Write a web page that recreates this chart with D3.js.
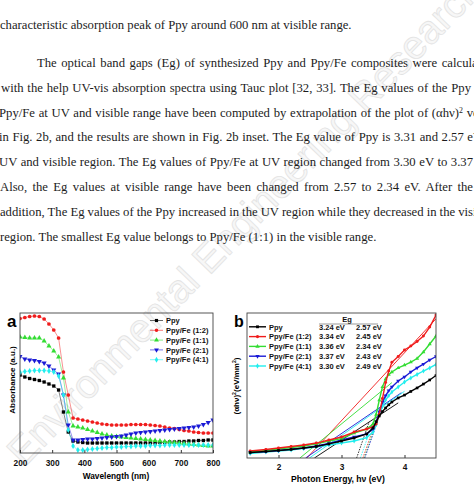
<!DOCTYPE html>
<html>
<head>
<meta charset="utf-8">
<script src="https://cdn.jsdelivr.net/npm/d3@7"></script>
<style>
body { margin: 0; background: #fff; }
svg { display: block; }
</style>
</head>
<body>
<div id="page"></div>
<script>
const W = 474, H = 491

// ---- figure a : UV-vis absorbance ----
const wavelengths = [200, 215, 230, 245, 260, 275, 290, 305, 320, 335, 350, 365, 380, 395, 410, 425, 440, 455, 470, 485,
    500, 515, 530, 545, 560, 575, 590, 605, 620, 635, 650, 665, 680, 695, 710, 725, 740, 755, 770, 785, 800]
const absPpy = [0.78, 0.76, 0.745, 0.735, 0.725, 0.71, 0.69, 0.67, 0.63, 0.41, 0.21, 0.12, 0.11, 0.105, 0.1, 0.1, 0.1, 0.1, 0.1, 0.1,
    0.1, 0.1, 0.1, 0.1, 0.1, 0.1, 0.1, 0.1, 0.1, 0.105, 0.105, 0.11, 0.11, 0.115, 0.115, 0.12, 0.12, 0.125, 0.125, 0.13, 0.13]
const absFe12 = [1.345, 1.355, 1.365, 1.37, 1.365, 1.34, 1.29, 1.23, 1.15, 0.81, 0.58, 0.35, 0.34, 0.33, 0.32, 0.31, 0.3, 0.29, 0.285, 0.28,
    0.28, 0.28, 0.28, 0.285, 0.285, 0.285, 0.285, 0.28, 0.275, 0.27, 0.26, 0.25, 0.245, 0.235, 0.225, 0.22, 0.21, 0.205, 0.2, 0.2, 0.2]
const absFe11 = [1.16, 1.155, 1.15, 1.15, 1.15, 1.12, 1.07, 1.02, 0.96, 0.75, 0.41, 0.27, 0.26, 0.25, 0.235, 0.22, 0.205, 0.19, 0.18, 0.17,
    0.165, 0.16, 0.155, 0.15, 0.145, 0.14, 0.135, 0.13, 0.125, 0.12, 0.115, 0.11, 0.105, 0.1, 0.095, 0.09, 0.085, 0.08, 0.075, 0.07, 0.07]
const absFe21 = [0.965, 0.94, 0.93, 0.925, 0.915, 0.9, 0.87, 0.83, 0.79, 0.58, 0.28, 0.13, 0.13, 0.135, 0.14, 0.14, 0.145, 0.15, 0.155, 0.16,
    0.165, 0.17, 0.18, 0.19, 0.2, 0.205, 0.21, 0.215, 0.22, 0.225, 0.23, 0.235, 0.24, 0.245, 0.25, 0.255, 0.26, 0.27, 0.285, 0.305, 0.33]
const absFe41 = [0.805, 0.815, 0.82, 0.825, 0.825, 0.825, 0.82, 0.81, 0.77, 0.58, 0.23, 0.07, 0.03, 0.03, 0.035, 0.04, 0.045, 0.05, 0.055, 0.055,
    0.06, 0.06, 0.065, 0.065, 0.07, 0.07, 0.07, 0.075, 0.075, 0.075, 0.08, 0.08, 0.08, 0.08, 0.08, 0.08, 0.08, 0.08, 0.08, 0.08, 0.08]
const wlTicks = [200, 300, 400, 500, 600, 700, 800]

// ---- figure b : Tauc plot ----
const energies = [1.55, 1.8, 2.0, 2.2, 2.4, 2.6, 2.8, 3.0, 3.2, 3.4, 3.5, 3.55, 3.6, 3.65, 3.7, 3.75, 3.8, 3.9, 4.0, 4.1, 4.2, 4.3, 4.4, 4.5]
const taucPpy = [0.038, 0.045, 0.052, 0.059, 0.069, 0.079, 0.097, 0.117, 0.138, 0.166, 0.207, 0.25, 0.29, 0.32, 0.345, 0.367, 0.386, 0.414, 0.434, 0.459, 0.483, 0.51, 0.538, 0.569]
const taucFe12 = [0.048, 0.059, 0.069, 0.079, 0.09, 0.103, 0.124, 0.145, 0.179, 0.2, 0.214, 0.234, 0.3, 0.41, 0.52, 0.6, 0.66, 0.7, 0.745, 0.772, 0.803, 0.841, 0.903, 0.986]
const taucFe11 = [0.041, 0.052, 0.062, 0.072, 0.083, 0.097, 0.117, 0.134, 0.172, 0.2, 0.234, 0.3, 0.4, 0.49, 0.545, 0.575, 0.593, 0.621, 0.641, 0.662, 0.686, 0.731, 0.786, 0.841]
const taucFe21 = [0.038, 0.045, 0.052, 0.062, 0.069, 0.083, 0.1, 0.124, 0.145, 0.166, 0.2, 0.25, 0.32, 0.385, 0.43, 0.465, 0.49, 0.531, 0.559, 0.593, 0.621, 0.648, 0.676, 0.7]
const taucFe41 = [0.031, 0.041, 0.048, 0.055, 0.066, 0.076, 0.09, 0.103, 0.117, 0.141, 0.179, 0.23, 0.297, 0.355, 0.4, 0.43, 0.455, 0.49, 0.524, 0.552, 0.576, 0.6, 0.621, 0.645]
const egUV = [3.24, 3.34, 3.36, 3.37, 3.30]
const egVis = [2.57, 2.45, 2.34, 2.43, 2.49]
// upper end of the visible-range fit lines [energy, value]
const visFitEnd = [[3.9, 0.38], [4.5, 0.96], [3.8, 0.52], [3.95, 0.45], [4.0, 0.46]]
const uvFitEnd = [[3.44, 0.25], [3.54, 0.25], [3.56, 0.25], [3.57, 0.25], [3.5, 0.25]]
const eTicks = [2, 3, 4]

const names = ["Ppy", "Ppy/Fe (1:2)", "Ppy/Fe (1:1)", "Ppy/Fe (2:1)", "Ppy/Fe (4:1)"]
const colors = ["#000000", "#f01c1c", "#33dd33", "#1a1ad6", "#22eeee"]
const symbols = [d3.symbolSquare, d3.symbolCircle, d3.symbolTriangle, d3.symbolTriangle, d3.symbolDiamond]
const rotations = [0, 0, 0, 180, 0]

const absSeries = [absPpy, absFe12, absFe11, absFe21, absFe41]
const taucSeries = [taucPpy, taucFe12, taucFe11, taucFe21, taucFe41]

const sans = "'Liberation Sans', Arial, sans-serif"

let svg = d3.select("#page").append("svg")
    .attr("width", W)
    .attr("height", H)

// watermark
svg.append("text")
    .attr("transform", "translate(24,468) rotate(-46)")
    .style("font-family", sans)
    .style("font-size", "40px")
    .attr("fill", "#f7f7f7")
    .attr("stroke", "#e3e3e3")
    .attr("stroke-width", 0.8)
    .text("Environmental Engineering Research")

// ---- paragraph text ----
const paraLines = [
    {parts: [["characteristic absorption peak of Ppy around 600 nm at visible range."]], x: 0, y: 28.5},
    {parts: [["The optical band gaps (Eg) of synthesized Ppy and Ppy/Fe composites were calcul"]], rest: "ated", x: 37, y: 66.5, end: 472},
    {parts: [["with the help UV-vis absorption spectra using Tauc plot [32, 33]. The Eg values of the Ppy"]], rest: " and", x: 1, y: 91.5, end: 471},
    {parts: [["Ppy/Fe at UV and visible range have been computed by extrapolation of the plot of (\u03b1h\u03bd)"], ["2", true], [" v"]], rest: "ersus", x: -1, y: 116.5, end: 473},
    {parts: [["in Fig. 2b, and the results are shown in Fig. 2b inset. The Eg value of Ppy is 3.31 and 2.57 e"]], rest: "V at", x: -1, y: 141, end: 473},
    {parts: [["UV and visible region. The Eg values of Ppy/Fe at UV region changed from 3.30 eV to 3.37"]], rest: " eV.", x: -1, y: 166, end: 473},
    {parts: [["Also, the Eg values at visible range have been changed from 2.57 to 2.34 eV. After the"]], rest: " Fe", x: 0, y: 190.5, end: 473},
    {parts: [["addition, The Eg values of the Ppy increased in the UV region while they decreased in the vis"]], rest: "ible", x: 0, y: 215.5, end: 473},
    {parts: [["region. The smallest Eg value belongs to Ppy/Fe (1:1) in the visible range."]], x: 0, y: 240.5}
]

let para = svg.append("g")
    .style("font-family", "'Liberation Serif', 'Times New Roman', serif")
    .attr("fill", "#1c1c1c")

let probe = para.append("text").style("font-size", "12px").text(paraLines[0].parts[0][0])
const paraSize = 12 * 352 / probe.node().getComputedTextLength()
probe.remove()

paraLines.forEach(line => {
    let t = para.append("text")
        .attr("x", line.x)
        .attr("y", line.y)
        .style("font-size", paraSize + "px")
    let spaces = 0
    line.parts.forEach(p => {
        let ts = t.append("tspan").text(p[0])
        if (p[1]) ts.attr("baseline-shift", "super").style("font-size", "0.62em")
        spaces += p[0].split(" ").length - 1
    })
    if (line.end) {
        let natural = t.node().getComputedTextLength()
        t.style("word-spacing", ((line.end - line.x - natural) / spaces) + "px")
        t.append("tspan").text(line.rest)
    }
})

// ---- chart a ----
let ax = d3.scaleLinear().domain([200, 800]).range([20, 213])
let ay = d3.scaleLinear().domain([0, 1.4]).range([453, 313])

let ga = svg.append("g")
ga.append("clipPath").attr("id", "clipA")
    .append("rect").attr("x", 20).attr("y", 313).attr("width", 193).attr("height", 140)

ga.append("g")
    .attr("transform", "translate(0,453)")
    .call(d3.axisBottom(ax).tickValues(wlTicks).tickSize(-3).tickPadding(7))
    .call(g => g.select(".domain").remove())
    .call(g => g.selectAll("line").attr("stroke", "#333"))
    .call(g => g.selectAll("text").style("font-family", sans).style("font-size", "8.3px").style("font-weight", "bold").attr("fill", "#111"))

let lineA = d3.line()
    .x((d, i) => ax(wavelengths[i]))
    .y(d => ay(d))

let plotA = ga.append("g").attr("clip-path", "url(#clipA)")
absSeries.forEach((s, k) => {
    plotA.append("path")
        .attr("d", lineA(s))
        .attr("fill", "none")
        .attr("stroke", colors[k])
        .attr("stroke-width", 0.6)
        .attr("opacity", 0.8)
})
absSeries.forEach((s, k) => {
    plotA.selectAll(null)
        .data(s)
        .enter()
        .append("path")
        .attr("d", d3.symbol().type(symbols[k]).size(11))
        .attr("transform", (d, i) => "translate(" + ax(wavelengths[i]) + "," + ay(d) + ") rotate(" + rotations[k] + ")")
        .attr("fill", colors[k])
})

ga.append("rect")
    .attr("x", 20).attr("y", 313).attr("width", 193).attr("height", 140)
    .attr("fill", "none").attr("stroke", "#444").attr("stroke-width", 0.9)

// legend a
names.forEach((n, k) => {
    let yy = 320.5 + k * 9.8
    ga.append("line").attr("x1", 150).attr("x2", 163).attr("y1", yy).attr("y2", yy)
        .attr("stroke", colors[k]).attr("stroke-width", 0.6)
    ga.append("path")
        .attr("d", d3.symbol().type(symbols[k]).size(10))
        .attr("transform", "translate(156.5," + yy + ") rotate(" + rotations[k] + ")")
        .attr("fill", colors[k])
    ga.append("text").attr("x", 166).attr("y", yy + 2.7)
        .style("font-family", sans).style("font-size", "7.5px").style("font-weight", "bold")
        .attr("fill", "#111").text(n)
})

ga.append("text").attr("x", 7).attr("y", 327)
    .style("font-family", sans).style("font-size", "17px").style("font-weight", "bold")
    .text("a")

ga.append("text")
    .attr("transform", "translate(15,380) rotate(-90)")
    .attr("text-anchor", "middle")
    .style("font-family", sans).style("font-size", "8px").style("font-weight", "bold")
    .text("Absorbance (a.u.)")

ga.append("text").attr("x", 116).attr("y", 479)
    .attr("text-anchor", "middle")
    .style("font-family", sans).style("font-size", "8.3px").style("font-weight", "bold")
    .text("Wavelength (nm)")

// ---- chart b ----
let bx = d3.scaleLinear().domain([1.5, 4.5]).range([247, 436])
let by = d3.scaleLinear().domain([0, 1]).range([458, 313])

let gb = svg.append("g")
gb.append("clipPath").attr("id", "clipB")
    .append("rect").attr("x", 247).attr("y", 313).attr("width", 189).attr("height", 145)

gb.append("g")
    .attr("transform", "translate(0,458)")
    .call(d3.axisBottom(bx).tickValues(eTicks).tickFormat(d3.format("d")).tickSize(-3).tickPadding(6))
    .call(g => g.select(".domain").remove())
    .call(g => g.selectAll("line").attr("stroke", "#333"))
    .call(g => g.selectAll("text").style("font-family", sans).style("font-size", "8.3px").style("font-weight", "bold").attr("fill", "#111"))

let plotB = gb.append("g").attr("clip-path", "url(#clipB)")

let lineB = d3.line()
    .x((d, i) => bx(energies[i]))
    .y(d => by(d))

// fit lines
egVis.forEach((e, k) => {
    plotB.append("line")
        .attr("x1", bx(e)).attr("y1", by(0))
        .attr("x2", bx(visFitEnd[k][0])).attr("y2", by(visFitEnd[k][1]))
        .attr("stroke", colors[k]).attr("stroke-width", 0.9)
})
egUV.forEach((e, k) => {
    plotB.append("line")
        .attr("x1", bx(e)).attr("y1", by(0))
        .attr("x2", bx(uvFitEnd[k][0])).attr("y2", by(uvFitEnd[k][1]))
        .attr("stroke", colors[k]).attr("stroke-width", 0.8)
        .attr("stroke-dasharray", "1.5,1.2")
})

let drawOrder = [4, 3, 2, 1, 0]
drawOrder.forEach(k => {
    plotB.append("path")
        .attr("d", lineB(taucSeries[k]))
        .attr("fill", "none")
        .attr("stroke", colors[k])
        .attr("stroke-width", 1.4)
    plotB.selectAll(null)
        .data(taucSeries[k])
        .enter()
        .append("path")
        .attr("d", d3.symbol().type(symbols[k]).size(7))
        .attr("transform", (d, i) => "translate(" + bx(energies[i]) + "," + by(d) + ") rotate(" + rotations[k] + ")")
        .attr("fill", colors[k])
})

gb.append("rect")
    .attr("x", 247).attr("y", 313).attr("width", 189).attr("height", 145)
    .attr("fill", "none").attr("stroke", "#444").attr("stroke-width", 0.9)

// legend b
const legFont = g => g.style("font-family", sans).style("font-size", "7.5px").style("font-weight", "bold").attr("fill", "#111")
gb.append("text").attr("x", 347).attr("y", 321.5).attr("text-anchor", "middle").call(legFont).text("Eg")
gb.append("line").attr("x1", 319).attr("x2", 378).attr("y1", 324).attr("y2", 324)
    .attr("stroke", "#555").attr("stroke-width", 0.6)
names.forEach((n, k) => {
    let yy = 326.8 + k * 9.8
    gb.append("line").attr("x1", 249).attr("x2", 266).attr("y1", yy).attr("y2", yy)
        .attr("stroke", colors[k]).attr("stroke-width", 1.4)
    gb.append("path")
        .attr("d", d3.symbol().type(symbols[k]).size(8))
        .attr("transform", "translate(257.5," + yy + ") rotate(" + rotations[k] + ")")
        .attr("fill", colors[k])
    gb.append("text").attr("x", 269).attr("y", yy + 2.7).call(legFont).text(n)
    gb.append("text").attr("x", 319).attr("y", yy + 2.7).call(legFont).text(egUV[k].toFixed(2) + " eV")
    gb.append("text").attr("x", 356).attr("y", yy + 2.7).call(legFont).text(egVis[k].toFixed(2) + " eV")
})

gb.append("text").attr("x", 234).attr("y", 327)
    .style("font-family", sans).style("font-size", "16px").style("font-weight", "bold")
    .text("b")

let ylabB = gb.append("text")
    .attr("transform", "translate(239,386) rotate(-90)")
    .attr("text-anchor", "middle")
    .style("font-family", sans).style("font-size", "8px").style("font-weight", "bold")
ylabB.append("tspan").text("(\u03b1h\u03bd)")
ylabB.append("tspan").attr("baseline-shift", "super").style("font-size", "0.65em").text("2")
ylabB.append("tspan").text("(eV/mm")
ylabB.append("tspan").attr("baseline-shift", "super").style("font-size", "0.65em").text("2")
ylabB.append("tspan").text(")")

gb.append("text").attr("x", 338).attr("y", 482)
    .attr("text-anchor", "middle")
    .style("font-family", sans).style("font-size", "8.6px").style("font-weight", "bold")
    .text("Photon Energy, h\u03bd (eV)")
</script>
</body>
</html>
